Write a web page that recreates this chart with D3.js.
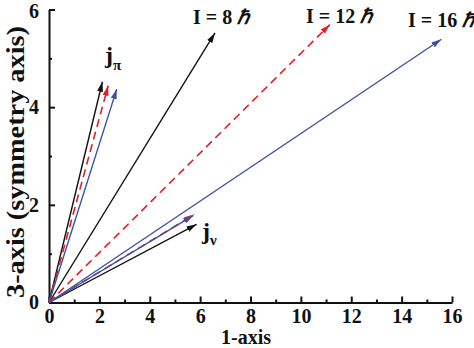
<!DOCTYPE html>
<html>
<head>
<meta charset="utf-8">
<script src="https://cdn.jsdelivr.net/npm/d3@7/dist/d3.min.js"></script>
<style>
  html, body { margin: 0; padding: 0; background: #fff; }
  svg { display: block; }
  text { font-family: "Liberation Serif", "Times New Roman", serif; font-weight: bold; fill: #111; }
</style>
</head>
<body>
<svg id="chart" width="474" height="348"></svg>
<script>
// Angular momentum vectors in the (1-axis, 3-axis) plane
const spins = ["8", "12", "16"];
const seriesColors = ["#111111", "#e0202a", "#3a52a4"];
const seriesDash = [null, "8,5", null];
// proton (j_pi) vector tips per spin
const jpiX = [2.12, 2.35, 2.69];
const jpiY = [4.52, 4.44, 4.37];
// neutron (j_nu) vector tips per spin
const jnuX = [5.86, 5.76, 5.72];
const jnuY = [1.60, 1.80, 1.78];
// total angular momentum I tips per spin
const totX = [6.59, 11.15, 15.58];
const totY = [5.52, 5.69, 5.39];

const xTicks = [0, 2, 4, 6, 8, 10, 12, 14, 16];
const yTicks = [0, 2, 4, 6];
const xMinor = [1, 3, 5, 7, 9, 11, 13, 15];
const yMinor = [1, 3, 5];

const svg = d3.select("#chart");
const x = d3.scaleLinear().domain([0, 16]).range([49, 452]);
const y = d3.scaleLinear().domain([0, 6]).range([302.5, 9.5]);

// arrow heads, one per colour
const defs = svg.append("defs");
seriesColors.forEach((c, i) => {
  defs.append("marker")
    .attr("id", "head" + i)
    .attr("viewBox", "0 0 10 6")
    .attr("refX", 10).attr("refY", 3)
    .attr("markerWidth", 10).attr("markerHeight", 6)
    .attr("markerUnits", "userSpaceOnUse")
    .attr("orient", "auto")
    .append("path").attr("d", "M0,0 L10,3 L0,6 Z").attr("fill", c);
});

// axes
const g = svg.append("g");
const axisStyle = sel => {
  sel.select(".domain").attr("stroke", "#111").attr("stroke-width", 2);
  sel.selectAll(".tick line").attr("stroke", "#111").attr("stroke-width", 2);
  sel.selectAll(".tick text").style("font-size", "20px").style("font-weight", "bold");
};

const xAxis = d3.axisBottom(x).tickValues(xTicks).tickFormat(d3.format("d"))
  .tickSizeInner(-6).tickSizeOuter(0).tickPadding(6.5);
g.append("g").attr("transform", `translate(0,${y(0)})`).call(xAxis).call(axisStyle);
g.append("g").attr("transform", `translate(0,${y(0)})`)
  .call(d3.axisBottom(x).tickValues(xMinor).tickFormat("").tickSizeInner(-3).tickSizeOuter(0))
  .call(s => { s.select(".domain").remove(); s.selectAll("line").attr("stroke", "#111").attr("stroke-width", 2); });

const yAxis = d3.axisLeft(y).tickValues(yTicks).tickFormat(d3.format("d"))
  .tickSizeInner(-6).tickSizeOuter(0).tickPadding(10);
const yG = g.append("g").attr("transform", `translate(${x(0)},0)`).call(yAxis).call(axisStyle);
// keep the top label inside the frame
yG.selectAll(".tick text").filter(d => d === 6).attr("dy", "0.36em").attr("y", 1);
g.append("g").attr("transform", `translate(${x(0)},0)`)
  .call(d3.axisLeft(y).tickValues(yMinor).tickFormat("").tickSizeInner(-3).tickSizeOuter(0))
  .call(s => { s.select(".domain").remove(); s.selectAll("line").attr("stroke", "#111").attr("stroke-width", 2); });

// axis titles
svg.append("text").attr("x", 246).attr("y", 344).attr("text-anchor", "middle")
  .style("font-size", "20px").text("1-axis");
svg.append("text").attr("transform", "translate(24,162) rotate(-90)").attr("text-anchor", "middle")
  .attr("textLength", 272).attr("lengthAdjust", "spacingAndGlyphs")
  .style("font-size", "25px").text("3-axis (symmetry axis)");

// vectors
const vectors = [];
spins.forEach((s, i) => {
  vectors.push({ i, tx: jnuX[i], ty: jnuY[i] });
  vectors.push({ i, tx: jpiX[i], ty: jpiY[i] });
  vectors.push({ i, tx: totX[i], ty: totY[i] });
});
svg.append("g").selectAll("line").data(vectors).join("line")
  .attr("x1", x(0)).attr("y1", y(0))
  .attr("x2", d => x(d.tx)).attr("y2", d => y(d.ty))
  .attr("stroke", d => seriesColors[d.i])
  .attr("stroke-width", d => d.i === 1 ? 1.6 : 1.4)
  .attr("stroke-dasharray", d => seriesDash[d.i])
  .attr("marker-end", d => `url(#head${d.i})`);

// spin labels
const labelPos = [[193, 24], [306, 23], [408, 27]];
spins.forEach((s, i) => {
  const t = svg.append("text").attr("x", labelPos[i][0]).attr("y", labelPos[i][1])
    .style("font-size", "20px");
  t.append("tspan").text("I = " + s + " ");
  t.append("tspan").style("font-style", "italic").text("ℏ");
});

// single-particle labels
const jp = svg.append("text").attr("x", 105).attr("y", 63).style("font-size", "24px");
jp.append("tspan").text("j");
jp.append("tspan").attr("dy", 7).style("font-size", "15px").text("π");
const jn = svg.append("text").attr("x", 202).attr("y", 239).style("font-size", "24px");
jn.append("tspan").text("j");
jn.append("tspan").attr("dy", 6).style("font-size", "15px").text("ν");
</script>
</body>
</html>
